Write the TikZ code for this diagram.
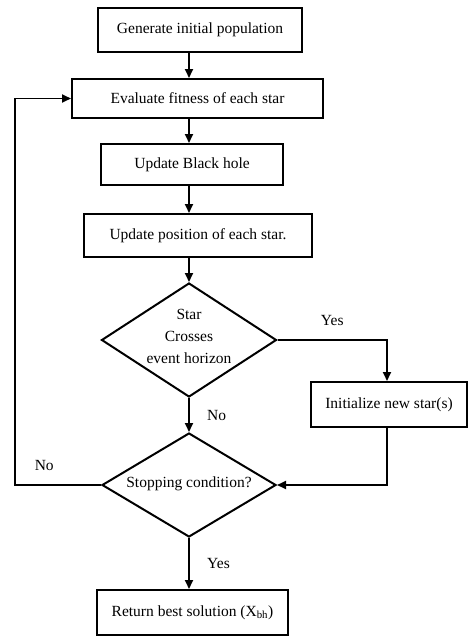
\documentclass[tikz,border=0pt]{standalone}
\usepackage{fontspec}
\setmainfont{Liberation Serif}
\usetikzlibrary{shapes.geometric, arrows.meta, positioning}

\begin{document}
\begin{tikzpicture}[
    x=1pt, y=-1pt,
    font=\fontsize{15.5}{22}\selectfont,
    proc_block/.style={draw, line width=2pt, inner sep=0pt, align=center},
    dec_block/.style={draw, diamond, line width=2pt, inner sep=0pt},
    arrow/.style={-{Triangle[length=9pt, width=8pt]}, line width=1.8pt}
]
\useasboundingbox (0,0) rectangle (474,637);

% --- Main column ---
\node[proc_block, minimum width=204pt, minimum height=44pt] (gen) at (200, 30) {Generate initial population};
\node[proc_block, minimum width=251pt, minimum height=39pt] (eval) at (197.5, 98.5) {Evaluate fitness of each star};
\node[proc_block, minimum width=182pt, minimum height=41pt] (bh) at (192, 164.5) {Update Black hole};
\node[proc_block, minimum width=228pt, minimum height=43pt] (pos) at (198, 235.5) {Update position of each star.};

% --- Decisions ---
\node[dec_block, minimum width=175pt, minimum height=114pt] (cross) at (189, 340) {};
\node[align=center] (crosstext) at (189, 336) {Star\\Crosses\\event horizon};
\node[dec_block, minimum width=174pt, minimum height=104pt] (stop) at (189, 485) {};
\node (stoptext) at (189, 484) {Stopping condition?};

% --- Side branch ---
\node[proc_block, minimum width=156pt, minimum height=45pt] (init) at (389, 404.5) {Initialize new star(s)};

% --- Result ---
\node[proc_block, minimum width=191pt, minimum height=45pt] (best) at (192.5, 612.5) {Return best solution (X\textsubscript{bh})};

% --- Connectors ---
\draw[arrow] (gen.south -| 189,0) -- (eval.north -| 189,0);
\draw[arrow] (eval.south -| 189,0) -- (bh.north -| 189,0);
\draw[arrow] (bh.south -| 189,0) -- (pos.north -| 189,0);
\draw[arrow] (pos.south -| 189,0) -- (cross.north);
\draw[arrow] (cross.south) -- (stop.north) node[midway, right=14pt] {No};
\draw[arrow] (cross.east) -| (init.north -| 387,0) node[pos=0.25, above=10pt] {Yes};
\draw[arrow] (init.south -| 387,0) |- (stop.east);
\draw[arrow] (stop.west) -| (15, 98.5) node[pos=0.33, above=10pt] {No} -- (eval.west);
\draw[arrow] (stop.south) -- (best.north -| 189,0) node[midway, right=14pt] {Yes};

\end{tikzpicture}
\end{document}
